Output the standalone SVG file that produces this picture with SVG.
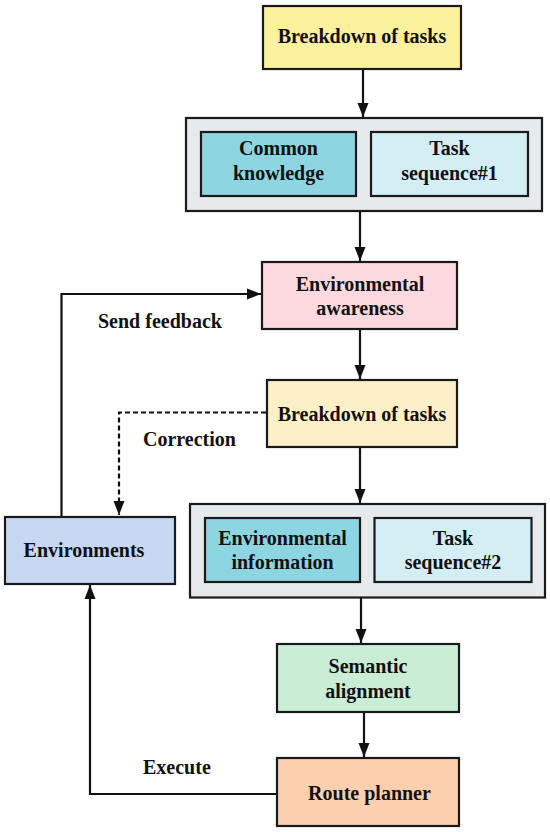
<svg xmlns="http://www.w3.org/2000/svg" width="550" height="832" viewBox="0 0 550 832">
<style>
.box{stroke:#1a1a1a;stroke-width:2.2}
.t{font-family:"Liberation Serif","Times New Roman",serif;font-weight:bold;font-size:20px;fill:#111;text-anchor:middle}
.l{font-family:"Liberation Serif","Times New Roman",serif;font-weight:bold;font-size:20px;fill:#111}
.c{fill:none;stroke:#111;stroke-width:2.2}
.d{fill:none;stroke:#111;stroke-width:2.2;stroke-dasharray:5,3}
</style>
<defs>
<marker id="ah" markerUnits="userSpaceOnUse" markerWidth="14" markerHeight="14" viewBox="0 0 14 14" refX="14" refY="7" orient="auto">
<path d="M0,1.5 L14,7 L0,12.5 Z" fill="#111"/>
</marker>
</defs>
<rect width="550" height="832" fill="#fff"/>
<g id="connectors">
<line class="c" x1="363" y1="69" x2="363" y2="117" marker-end="url(#ah)"/>
<line class="c" x1="360" y1="211" x2="360" y2="261" marker-end="url(#ah)"/>
<line class="c" x1="360" y1="329" x2="360" y2="379" marker-end="url(#ah)"/>
<line class="c" x1="360" y1="447" x2="360" y2="503" marker-end="url(#ah)"/>
<line class="c" x1="361" y1="598" x2="361" y2="643" marker-end="url(#ah)"/>
<line class="c" x1="364" y1="712" x2="364" y2="757" marker-end="url(#ah)"/>
<polyline class="c" points="61.5,516 61.5,294 261,294" marker-end="url(#ah)"/>
<polyline class="d" points="266,412.5 119,412.5 119,515" marker-end="url(#ah)"/>
<polyline class="c" points="277,794 90,794 90,585" marker-end="url(#ah)"/>
<text class="l" x="98" y="328">Send feedback</text>
<text class="l" x="143" y="446">Correction</text>
<text class="l" x="143" y="774">Execute</text>
</g>
<g id="breakdown1">
<rect class="box" x="263" y="6" width="198" height="63" fill="#fbf09c"/>
<text class="t" x="362" y="43">Breakdown of tasks</text>
</g>
<g id="group1">
<rect class="box" x="186" y="118" width="356" height="93" fill="#e6eaed"/>
<g id="common-knowledge">
<rect class="box" x="201" y="132" width="155" height="64" fill="#8ed5e2"/>
<text class="t" x="278.5" y="155">Common</text>
<text class="t" x="278.5" y="180">knowledge</text>
</g>
<g id="task-seq1">
<rect class="box" x="371" y="132" width="157" height="64" fill="#d4eef4"/>
<text class="t" x="449.5" y="155">Task</text>
<text class="t" x="449.5" y="180">sequence#1</text>
</g>
</g>
<g id="env-awareness">
<rect class="box" x="262" y="262" width="195" height="67" fill="#fbd9de"/>
<text class="t" x="360" y="291">Environmental</text>
<text class="t" x="360" y="315">awareness</text>
</g>
<g id="breakdown2">
<rect class="box" x="267" y="380" width="190" height="67" fill="#fdf0c8"/>
<text class="t" x="362" y="421">Breakdown of tasks</text>
</g>
<g id="environments">
<rect class="box" x="5" y="517" width="170" height="67" fill="#c7d9f2"/>
<text class="t" x="84" y="557">Environments</text>
</g>
<g id="group2">
<rect class="box" x="190" y="504" width="355" height="93.5" fill="#e6eaed"/>
<g id="env-info">
<rect class="box" x="205" y="518" width="155" height="64" fill="#8ed5e2"/>
<text class="t" x="282.5" y="545">Environmental</text>
<text class="t" x="282.5" y="569">information</text>
</g>
<g id="task-seq2">
<rect class="box" x="374.5" y="518" width="157" height="64" fill="#d4eef4"/>
<text class="t" x="453" y="545">Task</text>
<text class="t" x="453" y="569">sequence#2</text>
</g>
</g>
<g id="semantic">
<rect class="box" x="277" y="644" width="182" height="68" fill="#c9edd5"/>
<text class="t" x="368" y="673">Semantic</text>
<text class="t" x="368" y="698">alignment</text>
</g>
<g id="route-planner">
<rect class="box" x="277" y="758" width="182" height="68" fill="#fcd0ae"/>
<text class="t" x="369.5" y="800">Route planner</text>
</g>
</svg>
